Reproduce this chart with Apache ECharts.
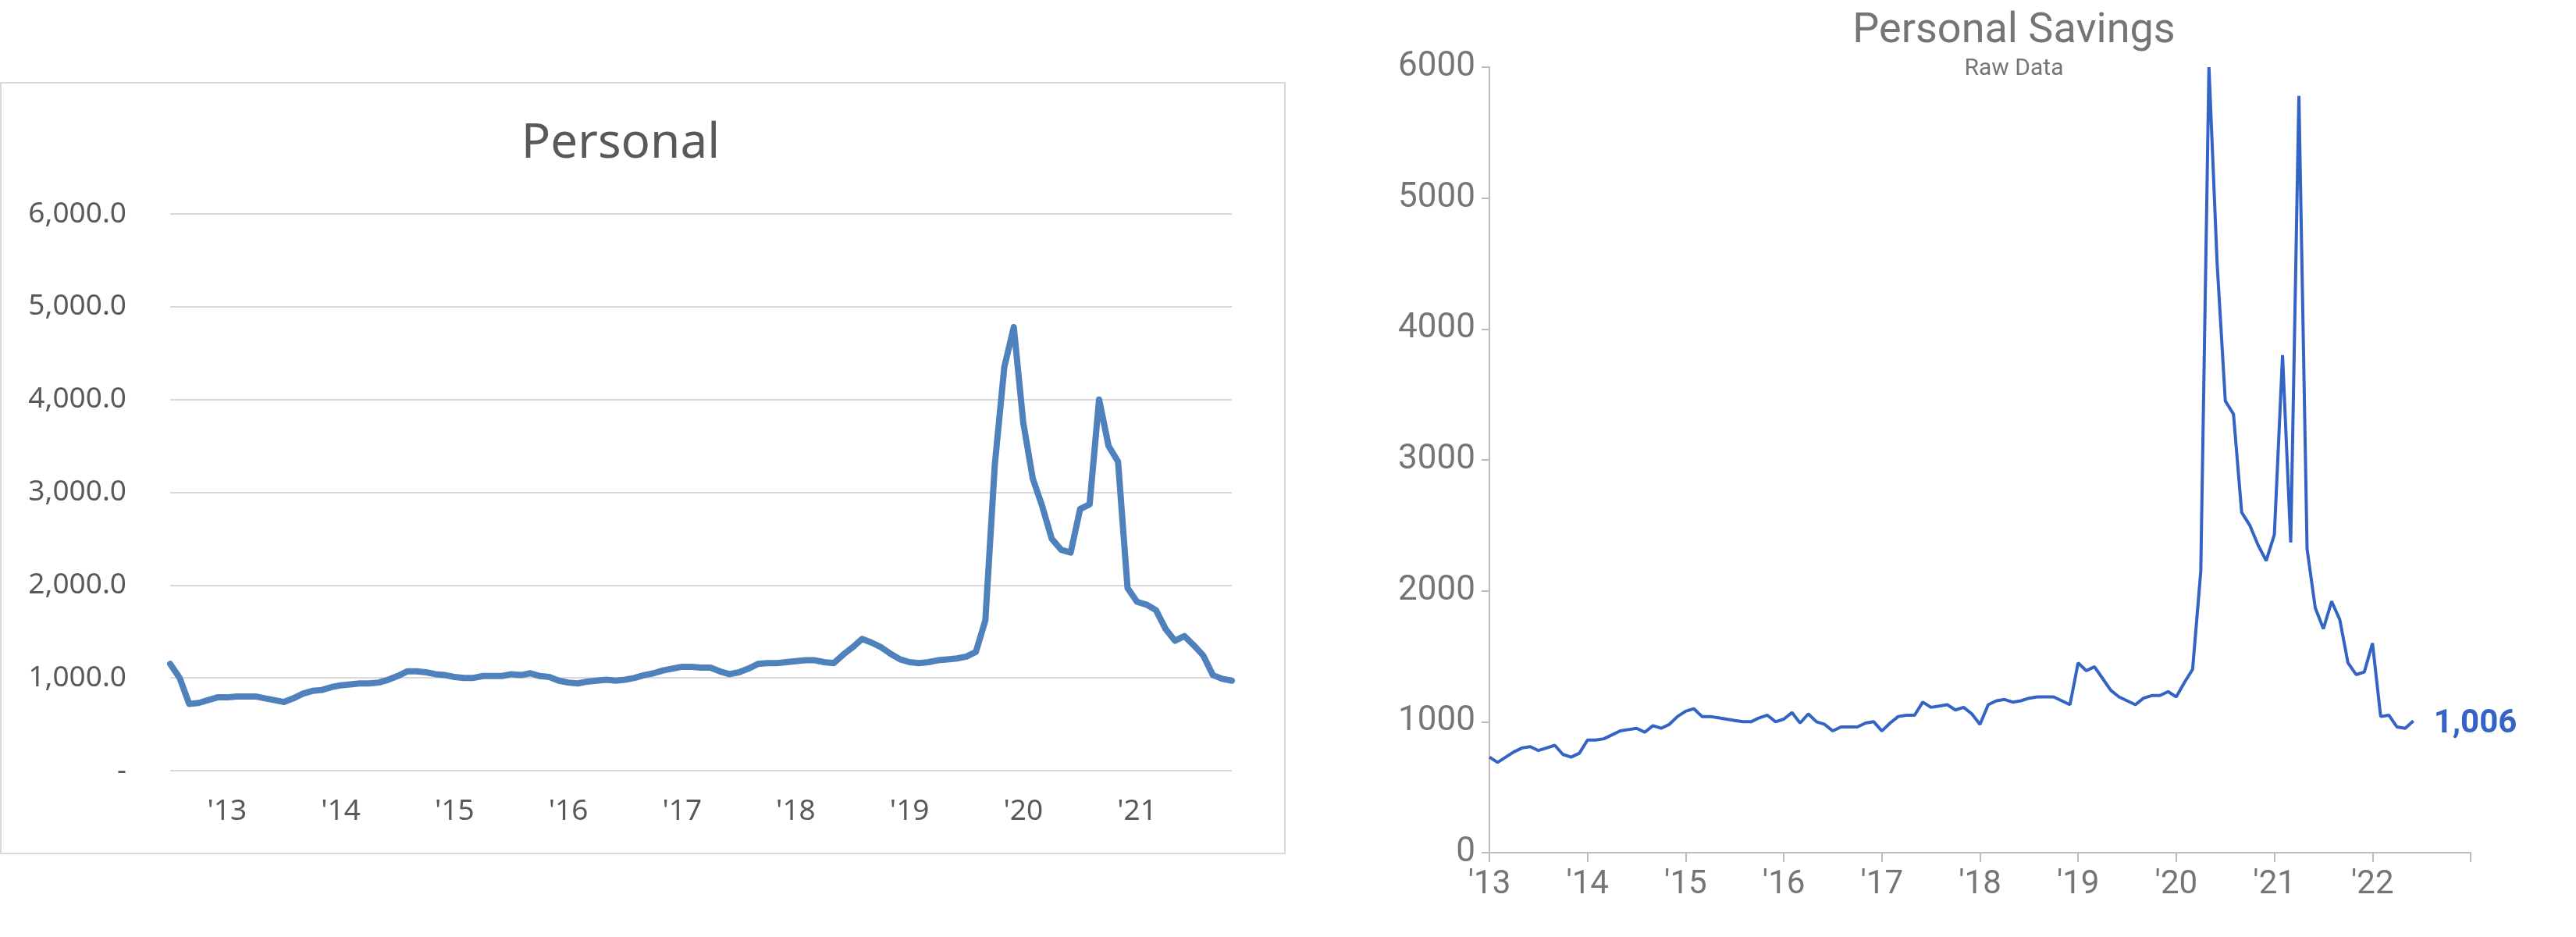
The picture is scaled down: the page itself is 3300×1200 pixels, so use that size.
<!DOCTYPE html>
<html>
<head>
<meta charset="utf-8">
<script src="https://cdn.jsdelivr.net/npm/echarts@6/dist/echarts.min.js"></script>
<style>
  html, body { margin: 0; padding: 0; background: #fff; }
  #main { width: 3300px; height: 1200px; }
</style>
</head>
<body>
<div id="main"></div>
<script>
// left chart: monthly, Jul 2012 .. Nov 2021
var personalValues = [
    1150, 1000, 720, 730, 760, 790,
    790, 800, 800, 800, 780, 760, 740, 780, 830, 860, 870, 900,
    920, 930, 940, 940, 950, 980, 1020, 1070, 1070, 1060, 1040, 1030,
    1010, 1000, 1000, 1020, 1020, 1020, 1040, 1030, 1050, 1020, 1010, 970,
    950, 940, 960, 970, 980, 970, 980, 1000, 1030, 1050, 1080, 1100,
    1120, 1120, 1110, 1110, 1070, 1040, 1060, 1100, 1150, 1160, 1160, 1170,
    1180, 1190, 1190, 1170, 1160, 1250, 1330, 1420, 1380, 1330, 1260, 1200,
    1170, 1160, 1170, 1190, 1200, 1210, 1230, 1280, 1620, 3300, 4350, 4780,
    3750, 3150, 2850, 2500, 2380, 2350, 2820, 2870, 4000, 3500, 3330, 1970,
    1820, 1790, 1730, 1530, 1400, 1450, 1350, 1240, 1030, 990, 970
];
// right chart: monthly, Jan 2013 .. Jun 2022
var savingsValues = [
    730, 690, 730, 770, 800, 810, 780, 800, 820, 750, 730, 760,
    860, 860, 870, 900, 930, 940, 950, 920, 970, 950, 980, 1040,
    1080, 1100, 1040, 1040, 1030, 1020, 1010, 1000, 1000, 1030, 1050, 1000,
    1020, 1070, 990, 1060, 1000, 980, 930, 960, 960, 960, 990, 1000,
    930, 990, 1040, 1050, 1050, 1150, 1110, 1120, 1130, 1090, 1110, 1060,
    980, 1130, 1160, 1170, 1150, 1160, 1180, 1190, 1190, 1190, 1160, 1130,
    1450, 1390, 1420, 1330, 1240, 1190, 1160, 1130, 1180, 1200, 1200, 1230,
    1190, 1300, 1400, 2150, 6000, 4500, 3450, 3350, 2600, 2500, 2350, 2230,
    2430, 3800, 2370, 5780, 2320, 1870, 1710, 1920, 1780, 1450, 1360, 1380,
    1600, 1040, 1050, 960, 950, 1006
];

function monthCats(startYear, startMonth, count) {
    var out = [];
    for (var i = 0; i < count; i++) {
        var m = startMonth - 1 + i;
        var y = startYear + Math.floor(m / 12);
        out.push(y + '-' + ('0' + (m % 12 + 1)).slice(-2));
    }
    return out;
}
var leftCats = monthCats(2012, 7, personalValues.length);
var rightCats = monthCats(2013, 1, 121); // Jan 2013 .. Jan 2023

function isJan(c) { return c.slice(5) === '01'; }
function yearLabel(c) { return "'" + c.slice(2, 4); }

var chart = echarts.init(document.getElementById('main'));
var leftFont = '"Liberation Sans Narrow", "Noto Sans", sans-serif';
var rightFont = 'Roboto, sans-serif';

chart.setOption({
    animation: false,
    graphic: [{
        type: 'rect',
        shape: { x: 1, y: 106, width: 1645, height: 987 },
        style: { fill: 'none', stroke: '#d9d9d9', lineWidth: 2 },
        silent: true
    }],
    title: [
        { text: 'Personal', left: 790, top: 148, textAlign: 'center',
          textStyle: { fontFamily: leftFont, fontSize: 62, fontWeight: 'normal', color: '#595959' } },
        { text: 'Personal Savings', subtext: 'Raw Data', left: 2575, top: 8, textAlign: 'center', itemGap: 6,
          textStyle: { fontFamily: rightFont, fontSize: 54, fontWeight: 'normal', color: '#757575' },
          subtextStyle: { fontFamily: rightFont, fontSize: 30, color: '#757575' } }
    ],
    grid: [
        { left: 218, top: 274, width: 1360, height: 713 },
        { left: 1908, top: 86, width: 1257, height: 1006 }
    ],
    xAxis: [
        { gridIndex: 0, type: 'category', data: leftCats, boundaryGap: false,
          axisLine: { show: false }, axisTick: { show: false },
          axisLabel: { interval: function (i, c) { return isJan(c); }, formatter: yearLabel,
                       fontFamily: leftFont, fontSize: 37, color: '#595959', margin: 34 } },
        { gridIndex: 1, type: 'category', data: rightCats, boundaryGap: false,
          axisLine: { lineStyle: { color: '#bdbdbd', width: 2 } },
          axisTick: { interval: function (i, c) { return isJan(c); }, length: 12, lineStyle: { color: '#bdbdbd', width: 2 } },
          axisLabel: { interval: function (i, c) { return isJan(c) && i < 120; }, formatter: yearLabel,
                       fontFamily: rightFont, fontSize: 42, color: '#757575', margin: 20 } }
    ],
    yAxis: [
        { gridIndex: 0, type: 'value', min: 0, max: 6000, interval: 1000,
          axisLine: { show: false }, axisTick: { show: false },
          splitLine: { lineStyle: { color: '#d9d9d9', width: 2 } },
          axisLabel: { fontFamily: leftFont, fontSize: 37, color: '#595959', margin: 56,
                       formatter: function (v) { return v === 0 ? '-' : v.toLocaleString('en-US') + '.0'; } } },
        { gridIndex: 1, type: 'value', min: 0, max: 6000, interval: 1000,
          axisLine: { show: true, lineStyle: { color: '#bdbdbd', width: 2 } },
          axisTick: { show: true, length: 10, lineStyle: { color: '#bdbdbd', width: 2 } },
          splitLine: { show: false },
          axisLabel: { fontFamily: rightFont, fontSize: 44, color: '#757575', margin: 18,
                       formatter: function (v) { return String(v); } } }
    ],
    series: [
        { type: 'line', xAxisIndex: 0, yAxisIndex: 0, data: personalValues, showSymbol: false,
          lineStyle: { color: '#4f81bd', width: 8, join: 'round', cap: 'round' } },
        { type: 'line', xAxisIndex: 1, yAxisIndex: 1, data: savingsValues, showSymbol: false,
          lineStyle: { color: '#3363c4', width: 4 },
          endLabel: { show: true, formatter: '1,006', fontFamily: rightFont, fontSize: 42,
                      fontWeight: 'bold', color: '#3363c4', distance: 26, offset: [0, 4] } }
    ]
});
</script>
</body>
</html>
